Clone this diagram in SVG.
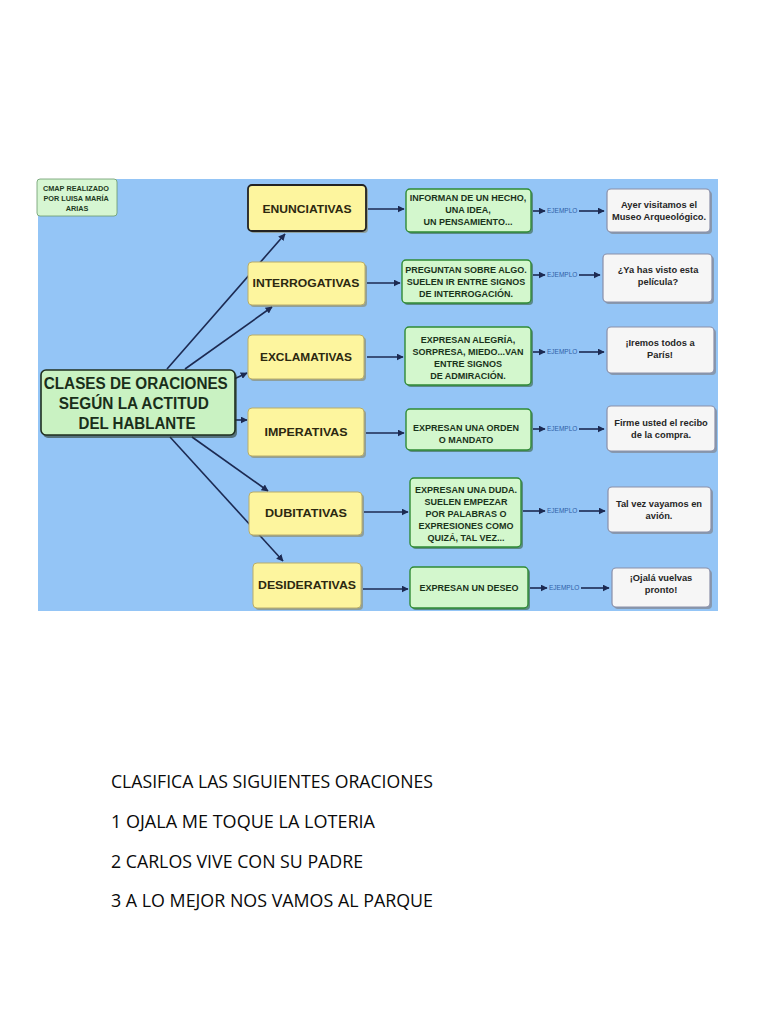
<svg xmlns="http://www.w3.org/2000/svg" width="768" height="1024" viewBox="0 0 768 1024">
<style>
.cat{fill:#fdf59e;stroke:#b9ad6a;stroke-width:1}
.catsh{fill:#8a8560;opacity:.6}
.desc{fill:#d3f7cd;stroke:#2f8a35;stroke-width:1.4}
.descsh{fill:#2b5a2b;opacity:.55}
.ex{fill:#f6f6f6;stroke:#8a8fa8;stroke-width:1.2}
.exsh{fill:#7a6e68;opacity:.5}
.ct{font-family:"Liberation Sans",Arial,sans-serif;font-weight:bold;font-size:10.5px;fill:#2c2810;text-anchor:middle}
.dt{font-family:"Liberation Sans",Arial,sans-serif;font-weight:bold;font-size:9px;fill:#1a331a;text-anchor:middle}
.et{font-family:"Liberation Sans",Arial,sans-serif;font-weight:bold;font-size:9.3px;fill:#262626;text-anchor:middle}
.ej{font-family:"Liberation Sans",Arial,sans-serif;font-size:6.5px;fill:#2f5fa8}
.ln{stroke:#1c2a52;stroke-width:1.6;fill:none}
.q{font-family:"Open Sans","Liberation Sans",sans-serif;font-size:18px;fill:#0a0a0a}
</style>
<defs>
<marker id="ah" viewBox="0 0 10 10" refX="9" refY="5" markerWidth="7" markerHeight="7" markerUnits="userSpaceOnUse" orient="auto">
<path d="M0,0 L10,5 L0,10 z" fill="#1c2a52"/>
</marker>
</defs>
<rect x="0" y="0" width="768" height="1024" fill="#ffffff"/>
<rect x="38" y="179" width="680" height="432" fill="#94c5f6"/>

<g id="connectors">
<line class="ln" x1="167" y1="369" x2="285" y2="234" marker-end="url(#ah)"/>
<line class="ln" x1="185" y1="369" x2="272" y2="307" marker-end="url(#ah)"/>
<line class="ln" x1="234" y1="379" x2="247" y2="373" marker-end="url(#ah)"/>
<line class="ln" x1="235" y1="420" x2="247" y2="420" marker-end="url(#ah)"/>
<line class="ln" x1="192" y1="437" x2="268" y2="491" marker-end="url(#ah)"/>
<line class="ln" x1="170" y1="437" x2="283" y2="561" marker-end="url(#ah)"/>

<line class="ln" x1="368" y1="209" x2="404" y2="209" marker-end="url(#ah)"/>
<line class="ln" x1="367" y1="283" x2="400" y2="283" marker-end="url(#ah)"/>
<line class="ln" x1="367" y1="357" x2="403" y2="357" marker-end="url(#ah)"/>
<line class="ln" x1="366" y1="433" x2="404" y2="433" marker-end="url(#ah)"/>
<line class="ln" x1="364" y1="512" x2="408" y2="512" marker-end="url(#ah)"/>
<line class="ln" x1="363" y1="589" x2="408" y2="589" marker-end="url(#ah)"/>

<line class="ln" x1="533" y1="211" x2="545" y2="211" marker-end="url(#ah)"/>
<line class="ln" x1="579" y1="211" x2="604" y2="211" marker-end="url(#ah)"/>
<line class="ln" x1="533" y1="275" x2="545" y2="275" marker-end="url(#ah)"/>
<line class="ln" x1="579" y1="275" x2="600" y2="275" marker-end="url(#ah)"/>
<line class="ln" x1="533" y1="352" x2="545" y2="352" marker-end="url(#ah)"/>
<line class="ln" x1="579" y1="352" x2="604" y2="352" marker-end="url(#ah)"/>
<line class="ln" x1="533" y1="429" x2="545" y2="429" marker-end="url(#ah)"/>
<line class="ln" x1="579" y1="429" x2="604" y2="429" marker-end="url(#ah)"/>
<line class="ln" x1="523" y1="511" x2="545" y2="511" marker-end="url(#ah)"/>
<line class="ln" x1="579" y1="511" x2="605" y2="511" marker-end="url(#ah)"/>
<line class="ln" x1="530" y1="588" x2="547" y2="588" marker-end="url(#ah)"/>
<line class="ln" x1="581" y1="588" x2="609" y2="588" marker-end="url(#ah)"/>
<text class="ej" x="547" y="213">EJEMPLO</text>
<text class="ej" x="547" y="277">EJEMPLO</text>
<text class="ej" x="547" y="354">EJEMPLO</text>
<text class="ej" x="547" y="431">EJEMPLO</text>
<text class="ej" x="547" y="513">EJEMPLO</text>
<text class="ej" x="549" y="590">EJEMPLO</text>
</g>

<g id="credit">
<rect x="37" y="179" width="80" height="37" rx="3" fill="#d6f6d2" stroke="#6a9a6a" stroke-width="0.8"/>
<text style="font-family:'Liberation Sans',Arial,sans-serif;font-weight:bold;font-size:7.3px;fill:#1e3a1e" text-anchor="middle">
<tspan x="77" y="191">CMAP REALIZADO</tspan>
<tspan x="77" y="201">POR LUISA MARÍA</tspan>
<tspan x="77" y="211">ARIAS</tspan>
</text>
</g>

<g id="main">
<rect x="43" y="372" width="194" height="66" rx="5" fill="#2b3a2b" opacity=".6"/>
<rect x="41" y="370" width="194" height="65" rx="5" fill="#c9f2c2" stroke="#1f2f1f" stroke-width="1.6"/>
<text style="font-family:'Liberation Sans',Arial,sans-serif;font-weight:bold;font-size:16px;fill:#1a2e1a" text-anchor="middle">
<tspan x="138" y="389" textLength="184" lengthAdjust="spacingAndGlyphs">CLASES DE ORACIONES</tspan>
<tspan x="136" y="409" textLength="150" lengthAdjust="spacingAndGlyphs">SEGÚN LA ACTITUD</tspan>
<tspan x="137" y="429" textLength="117" lengthAdjust="spacingAndGlyphs">DEL HABLANTE</tspan>
</text>
</g>

<g id="enunciativas">
<rect class="catsh" x="250" y="187" width="118" height="46" rx="4"/>
<rect x="248" y="185" width="118" height="46" rx="4" fill="#fdf59e" stroke="#222" stroke-width="1.8"/>
<text class="ct" x="307" y="213" textLength="89" lengthAdjust="spacingAndGlyphs">ENUNCIATIVAS</text>
</g>
<g id="interrogativas">
<rect class="catsh" x="250" y="264" width="117" height="43" rx="4"/>
<rect class="cat" x="248" y="262" width="117" height="43" rx="4"/>
<text class="ct" x="306" y="287" textLength="107" lengthAdjust="spacingAndGlyphs">INTERROGATIVAS</text>
</g>
<g id="exclamativas">
<rect class="catsh" x="250" y="337" width="116" height="44" rx="4"/>
<rect class="cat" x="248" y="335" width="116" height="44" rx="4"/>
<text class="ct" x="306" y="361" textLength="92" lengthAdjust="spacingAndGlyphs">EXCLAMATIVAS</text>
</g>
<g id="imperativas">
<rect class="catsh" x="250" y="410" width="116" height="48" rx="4"/>
<rect class="cat" x="248" y="408" width="116" height="48" rx="4"/>
<text class="ct" x="306" y="436" textLength="83" lengthAdjust="spacingAndGlyphs">IMPERATIVAS</text>
</g>
<g id="dubitativas">
<rect class="catsh" x="251" y="494" width="113" height="43" rx="4"/>
<rect class="cat" x="249" y="492" width="113" height="43" rx="4"/>
<text class="ct" x="306" y="517" textLength="82" lengthAdjust="spacingAndGlyphs">DUBITATIVAS</text>
</g>
<g id="desiderativas">
<rect class="catsh" x="255" y="565" width="108" height="45" rx="4"/>
<rect class="cat" x="253" y="563" width="108" height="45" rx="4"/>
<text class="ct" x="307" y="589" textLength="98" lengthAdjust="spacingAndGlyphs">DESIDERATIVAS</text>
</g>

<g id="desc-enunciativas">
<rect class="descsh" x="408" y="191" width="125" height="43" rx="4"/>
<rect class="desc" x="406" y="189" width="125" height="43" rx="4"/>
<text class="dt"><tspan x="468" y="201">INFORMAN DE UN HECHO,</tspan><tspan x="468" y="213">UNA IDEA,</tspan><tspan x="468" y="225">UN PENSAMIENTO...</tspan></text>
</g>
<g id="desc-interrogativas">
<rect class="descsh" x="404" y="262" width="129" height="43" rx="4"/>
<rect class="desc" x="402" y="260" width="129" height="43" rx="4"/>
<text class="dt"><tspan x="466" y="273">PREGUNTAN SOBRE ALGO.</tspan><tspan x="466" y="285">SUELEN IR ENTRE SIGNOS</tspan><tspan x="466" y="297">DE INTERROGACIÓN.</tspan></text>
</g>
<g id="desc-exclamativas">
<rect class="descsh" x="407" y="329" width="126" height="58" rx="4"/>
<rect class="desc" x="405" y="327" width="126" height="58" rx="4"/>
<text class="dt"><tspan x="468" y="343">EXPRESAN ALEGRÍA,</tspan><tspan x="468" y="355">SORPRESA, MIEDO...VAN</tspan><tspan x="468" y="367">ENTRE SIGNOS</tspan><tspan x="468" y="379">DE ADMIRACIÓN.</tspan></text>
</g>
<g id="desc-imperativas">
<rect class="descsh" x="408" y="411" width="125" height="41" rx="4"/>
<rect class="desc" x="406" y="409" width="125" height="41" rx="4"/>
<text class="dt"><tspan x="466" y="431">EXPRESAN UNA ORDEN</tspan><tspan x="466" y="443">O MANDATO</tspan></text>
</g>
<g id="desc-dubitativas">
<rect class="descsh" x="412" y="480" width="111" height="69" rx="4"/>
<rect class="desc" x="410" y="478" width="111" height="69" rx="4"/>
<text class="dt"><tspan x="466" y="493">EXPRESAN UNA DUDA.</tspan><tspan x="466" y="505">SUELEN EMPEZAR</tspan><tspan x="466" y="517">POR PALABRAS O</tspan><tspan x="466" y="529">EXPRESIONES COMO</tspan><tspan x="466" y="541">QUIZÁ, TAL VEZ...</tspan></text>
</g>
<g id="desc-desiderativas">
<rect class="descsh" x="412" y="569" width="118" height="41" rx="4"/>
<rect class="desc" x="410" y="567" width="118" height="41" rx="4"/>
<text class="dt"><tspan x="469" y="591">EXPRESAN UN DESEO</tspan></text>
</g>

<g id="ej-enunciativas">
<rect class="exsh" x="609" y="191" width="103" height="43" rx="4"/>
<rect class="ex" x="607" y="189" width="103" height="43" rx="4"/>
<text class="et"><tspan x="659" y="208">Ayer visitamos el</tspan><tspan x="659" y="220">Museo Arqueológico.</tspan></text>
</g>
<g id="ej-interrogativas">
<rect class="exsh" x="605" y="256" width="109" height="48" rx="4"/>
<rect class="ex" x="603" y="254" width="109" height="48" rx="4"/>
<text class="et"><tspan x="658" y="273">¿Ya has visto esta</tspan><tspan x="658" y="285">película?</tspan></text>
</g>
<g id="ej-exclamativas">
<rect class="exsh" x="609" y="329" width="107" height="46" rx="4"/>
<rect class="ex" x="607" y="327" width="107" height="46" rx="4"/>
<text class="et"><tspan x="660" y="346">¡Iremos todos a</tspan><tspan x="660" y="358">París!</tspan></text>
</g>
<g id="ej-imperativas">
<rect class="exsh" x="609" y="408" width="108" height="45" rx="4"/>
<rect class="ex" x="607" y="406" width="108" height="45" rx="4"/>
<text class="et"><tspan x="661" y="426">Firme usted el recibo</tspan><tspan x="661" y="438">de la compra.</tspan></text>
</g>
<g id="ej-dubitativas">
<rect class="exsh" x="610" y="489" width="103" height="45" rx="4"/>
<rect class="ex" x="608" y="487" width="103" height="45" rx="4"/>
<text class="et"><tspan x="659" y="507">Tal vez vayamos en</tspan><tspan x="659" y="519">avión.</tspan></text>
</g>
<g id="ej-desiderativas">
<rect class="exsh" x="614" y="570" width="98" height="39" rx="4"/>
<rect class="ex" x="612" y="568" width="98" height="39" rx="4"/>
<text class="et"><tspan x="661" y="581">¡Ojalá vuelvas</tspan><tspan x="661" y="593">pronto!</tspan></text>
</g>

<g id="ejercicio">
<text class="q" x="111" y="788" textLength="322" lengthAdjust="spacingAndGlyphs">CLASIFICA LAS SIGUIENTES ORACIONES</text>
<text class="q" x="111" y="828" textLength="264" lengthAdjust="spacingAndGlyphs">1 OJALA ME TOQUE LA LOTERIA</text>
<text class="q" x="111" y="868" textLength="252" lengthAdjust="spacingAndGlyphs">2 CARLOS VIVE CON SU PADRE</text>
<text class="q" x="111" y="907" textLength="322" lengthAdjust="spacingAndGlyphs">3 A LO MEJOR NOS VAMOS AL PARQUE</text>
</g>
</svg>
